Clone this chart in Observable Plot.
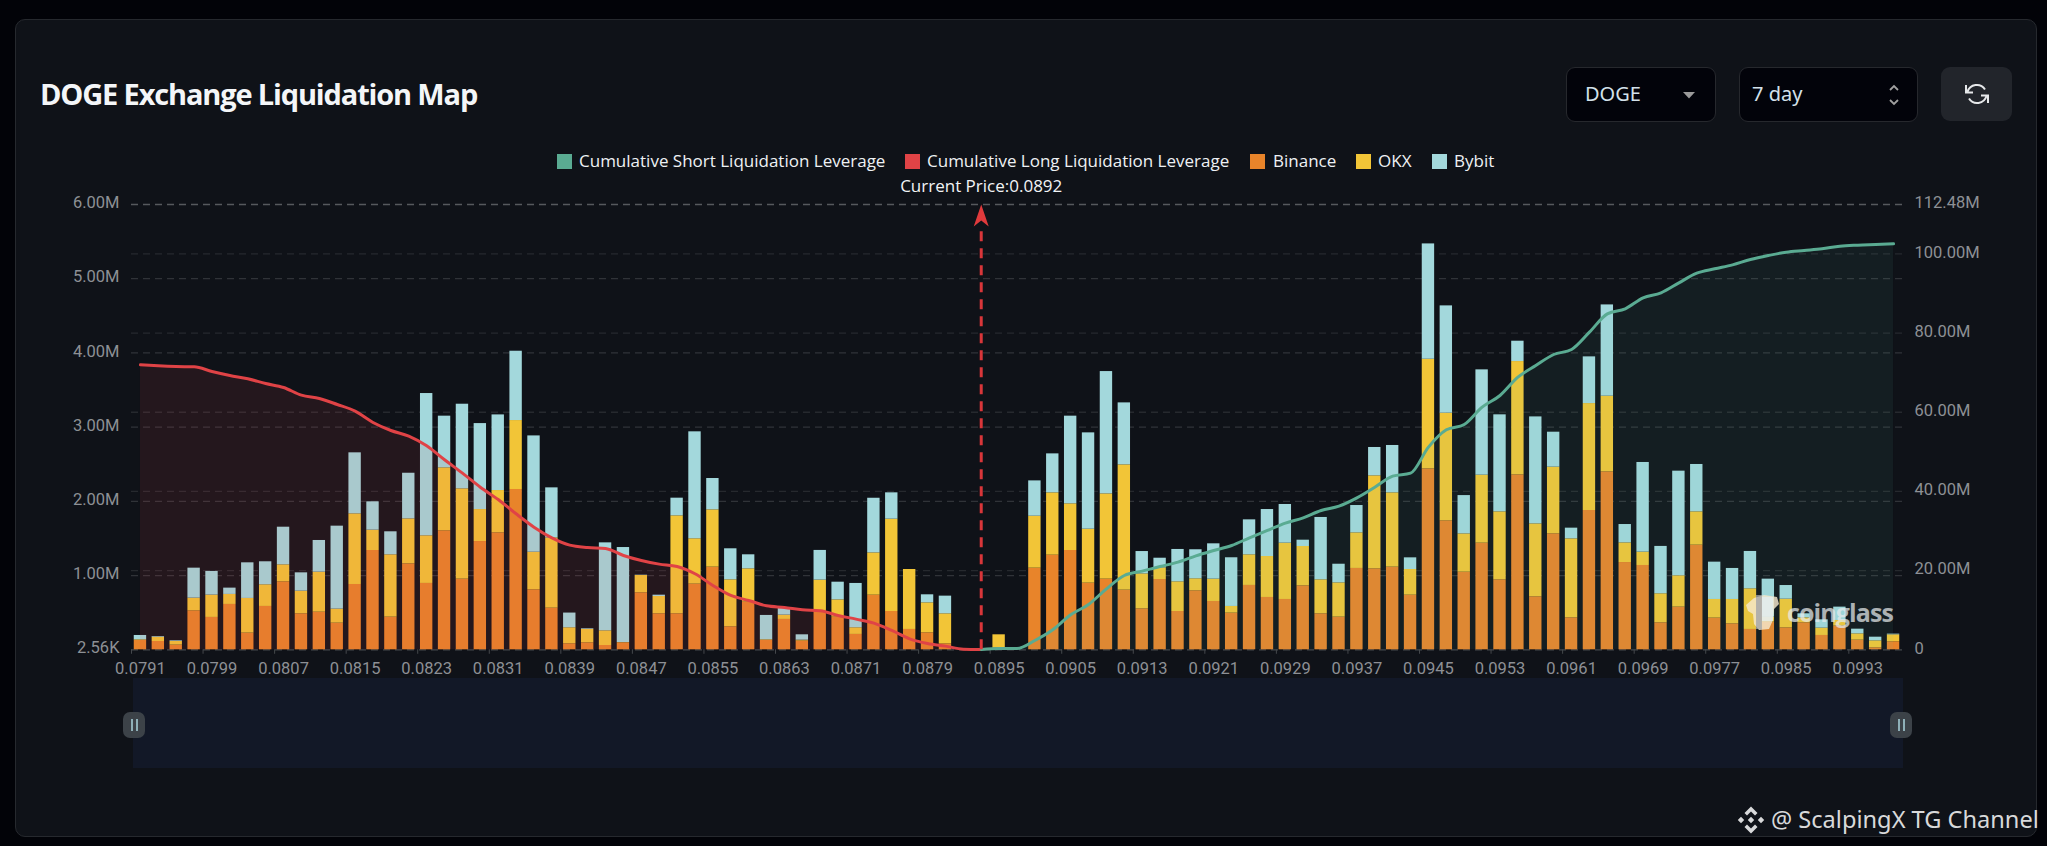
<!DOCTYPE html>
<html>
<head>
<meta charset="utf-8">
<script src="https://cdn.jsdelivr.net/npm/d3@7"></script>
<script src="https://cdn.jsdelivr.net/npm/@observablehq/plot@0.6"></script>
<style>
  html,body{margin:0;padding:0;background:#020308;width:2047px;height:846px;overflow:hidden;}
  .abs{position:absolute;}
  #card{left:15px;top:19px;width:2020px;height:816px;background:#0f1218;border:1px solid #26292e;border-radius:10px;}
  #title{left:40px;top:74px;font:700 29px/40px "Open Sans",sans-serif;color:#f4f6f8;letter-spacing:-1.15px;white-space:nowrap;}
  .box{top:67px;height:53px;background:#02030a;border:1px solid #26282d;border-radius:9px;box-sizing:content-box;}
  .boxtxt{top:80px;font:400 20px/28px "Noto Sans",sans-serif;color:#d3e1ea;white-space:nowrap;}
  #refresh{left:1941px;top:67px;width:71px;height:54px;background:#22252b;border-radius:9px;}
  .sw{top:154px;width:15px;height:15px;}
  .lg{top:149px;font:400 17px/24px "Open Sans",sans-serif;color:#eef1f4;white-space:nowrap;letter-spacing:0;}
  #slider{left:133px;top:678px;width:1770px;height:90px;background:#121827;}
  .handle{top:712px;width:22px;height:26px;background:#3c4248;border-radius:7px;}
  .handle i{position:absolute;top:7px;width:2px;height:12px;background:#8fb0b8;}
  #cg{left:1787px;top:594px;font:700 25px/36px "Open Sans",sans-serif;color:rgba(232,236,238,.72);letter-spacing:-.9px;white-space:nowrap;}
  #wm{left:1771px;top:799px;font:400 23.6px/40px "Noto Sans",sans-serif;color:#d8d9da;white-space:nowrap;}
</style>
</head>
<body>
<div id="card" class="abs"></div>
<div id="title" class="abs">DOGE Exchange Liquidation Map</div>

<div class="abs box" style="left:1566px;width:148px;"></div>
<div class="abs boxtxt" style="left:1585px;">DOGE</div>
<svg class="abs" style="left:1683px;top:92px;" width="12" height="7"><path d="M0 0H12L6 6.5Z" fill="#9a9a9a"/></svg>
<div class="abs box" style="left:1739px;width:177px;"></div>
<div class="abs boxtxt" style="left:1752px;">7 day</div>
<svg class="abs" style="left:1888px;top:84px;" width="12" height="22"><path d="M2 6L6 2L10 6M2 16L6 20L10 16" fill="none" stroke="#a0a0a0" stroke-width="1.8"/></svg>
<div id="refresh" class="abs"></div>
<svg class="abs" style="left:1964px;top:81px;" width="26" height="26" viewBox="0 0 26 26" fill="none" stroke="#e6e8ea" stroke-width="2"><path d="M3.5 11A9.7 9.7 0 0 1 21 8.5"/><path d="M22.500 15A9.700 9.700 0 0 1 5 17.500"/><path d="M2 4V11.500H9M24 22V14.500H17"/></svg>

<div class="abs sw" style="left:557px;background:#5aab92;"></div><div class="abs lg" style="left:579px;">Cumulative Short Liquidation Leverage</div>
<div class="abs sw" style="left:905px;background:#e04346;"></div><div class="abs lg" style="left:927px;">Cumulative Long Liquidation Leverage</div>
<div class="abs sw" style="left:1250px;background:#e8842a;"></div><div class="abs lg" style="left:1273px;">Binance</div>
<div class="abs sw" style="left:1356px;background:#f2c537;"></div><div class="abs lg" style="left:1378px;">OKX</div>
<div class="abs sw" style="left:1432px;background:#a3d8dc;"></div><div class="abs lg" style="left:1454px;">Bybit</div>

<div id="slider" class="abs"></div>
<div class="abs handle" style="left:123px;"><i style="left:8px"></i><i style="left:13px"></i></div>
<div class="abs handle" style="left:1890px;"><i style="left:8px"></i><i style="left:13px"></i></div>

<div id="chart" class="abs" style="left:0;top:175.5px;"></div>

<svg class="abs" style="left:1745px;top:593px;" width="36" height="38" viewBox="0 0 36 38"><path d="M1 12L9 5L19 2L32 4L34 11L29 16L28 27L24 36L14 37L9 31L8 21L3 18Z" fill="rgba(245,232,205,.82)"/><rect x="11" y="2" width="6" height="34" fill="rgba(170,170,170,.75)"/><rect x="17" y="4" width="11" height="24" fill="rgba(225,240,245,.7)"/></svg>
<div id="cg" class="abs">coinglass</div>

<svg class="abs" style="left:1737px;top:806px;" width="28" height="28" viewBox="0 0 28 28" fill="#d8d9da"><path d="M14 0.500L20.500 7L18 9.500L14 5.500L10 9.500L7.500 7ZM14 27.500L7.500 21L10 18.500L14 22.500L18 18.500L20.500 21ZM14 10.800L17.200 14L14 17.200L10.800 14ZM4 10.800L7.200 14L4 17.200L0.800 14ZM24 10.800L27.200 14L24 17.200L20.800 14Z"/></svg>
<div id="wm" class="abs">@ ScalpingX TG Channel</div>

<script>
const prices = ["0.0791","0.0793","0.0795","0.0797","0.0799","0.0801","0.0803","0.0805","0.0807","0.0809","0.0811","0.0813","0.0815","0.0817","0.0819","0.0821","0.0823","0.0825","0.0827","0.0829","0.0831","0.0833","0.0835","0.0837","0.0839","0.0841","0.0843","0.0845","0.0847","0.0849","0.0851","0.0853","0.0855","0.0857","0.0859","0.0861","0.0863","0.0865","0.0867","0.0869","0.0871","0.0873","0.0875","0.0877","0.0879","0.0881","0.0883","0.0892","0.0895","0.0897","0.0900","0.0902","0.0905","0.0907","0.0909","0.0911","0.0913","0.0915","0.0917","0.0919","0.0921","0.0923","0.0925","0.0927","0.0929","0.0931","0.0933","0.0935","0.0937","0.0939","0.0941","0.0943","0.0945","0.0947","0.0949","0.0951","0.0953","0.0955","0.0957","0.0959","0.0961","0.0963","0.0965","0.0967","0.0969","0.0971","0.0973","0.0975","0.0977","0.0979","0.0981","0.0983","0.0985","0.0987","0.0989","0.0991","0.0993","0.0995","0.0997"];

const binance = [.126,.112,.063,.525,.436,.611,.225,.584,.916,.485,.507,.359,.880,1.338,.440,1.158,.894,1.603,.952,1.459,1.576,2.160,.808,.561,.081,.094,.058,.094,.768,.485,.485,.885,1.114,.310,.642,.126,.409,.117,.530,.440,.207,.736,.516,.274,.229,.081,0,0,.027,0,1.100,1.275,1.338,.898,.952,.804,.552,.947,.516,.795,.651,.494,.867,.705,.678,.862,.485,.440,1.096,1.091,1.114,.736,2.438,1.738,1.046,1.437,.943,2.357,.714,1.563,.431,1.877,2.398,1.176,1.136,.364,.575,1.410,.427,.350,.274,.373,.296,.364,.193,.319,.130,.027,.108];
const okx = [.009,.058,.049,.171,.301,.135,.467,.292,.229,.305,.539,.189,.952,.274,.840,.606,.642,.849,1.217,.431,.570,.929,.507,.947,.216,.180,.198,.004,.233,.233,1.320,.611,.772,.633,.449,.009,.058,.013,.409,.233,.090,.570,1.244,.808,.404,.404,0,0,.175,0,.700,.840,.629,.727,1.149,1.688,.471,.157,.400,.162,.301,.090,.413,.552,.759,.530,.458,.462,.480,1.253,1.001,.346,1.477,1.450,.516,.916,.916,1.527,.983,.898,1.064,1.441,1.019,.265,.180,.391,.422,.449,.251,.328,.548,.067,.386,.067,.099,.076,.085,.094,.094];
const bybit = [.058,.009,.009,.404,.319,.085,.480,.310,.507,.247,.427,1.118,.822,.382,.310,.615,1.917,.696,1.140,1.158,1.019,.934,1.567,.674,.198,.009,1.185,1.280,.004,.018,.238,1.441,.422,.418,.189,.328,.094,.072,.400,.238,.597,.736,.355,0,.108,.238,0,0,0,0,.476,.525,1.181,1.298,1.648,.835,.301,.130,.436,.391,.476,.656,.471,.633,.521,.085,.840,.251,.368,.382,.638,.157,1.554,1.446,.516,1.419,1.307,.274,1.441,.471,.144,.629,1.230,.247,1.208,.638,1.410,.638,.503,.418,.503,.512,.184,.054,.112,.180,.063,.049,.009];

// cumulative leverage, millions, right-hand axis
const longPrices = prices.slice(0, 48);
const longCum = [71.98,71.73,71.56,71.48,70.30,69.29,68.45,67.27,66.26,64.32,63.48,61.96,60.28,57.42,55.40,53.97,51.52,47.99,44.62,41.08,37.97,34.35,30.98,28.29,26.44,25.85,25.59,23.83,22.56,21.64,21.05,19.20,16.25,13.72,12.46,11.11,10.69,10.10,9.85,8.67,7.75,6.74,4.88,2.78,1.60,.93,.17,.08];
const shortPrices = prices.slice(47);
const shortCum = [.08,.34,.34,2.36,5.05,8.84,11.45,15.41,18.77,19.87,21.05,22.14,23.74,25.09,26.35,28.29,30.14,31.99,33.34,35.19,36.29,38.39,41.08,43.86,44.62,51.19,55.57,56.91,61.29,64.24,68.87,71.81,74.59,75.86,80.23,84.86,86.13,88.90,90.17,92.69,95.13,96.23,97.24,98.59,99.60,100.44,100.86,101.28,101.95,102.21,102.37,102.54];

const xTicks = ["0.0791","0.0799","0.0807","0.0815","0.0823","0.0831","0.0839","0.0847","0.0855","0.0863","0.0871","0.0879","0.0895","0.0905","0.0913","0.0921","0.0929","0.0937","0.0945","0.0953","0.0961","0.0969","0.0977","0.0985","0.0993"];
const leftTicks = [0.00256,1,2,3,4,5,6];
const leftLabels = ["2.56K","1.00M","2.00M","3.00M","4.00M","5.00M","6.00M"];
const rightTicks = [0,20,40,60,80,100,112.48];
const rightLabels = ["0","20.00M","40.00M","60.00M","80.00M","100.00M","112.48M"];
const currentPrice = "0.0892";
const exchanges = ["Binance","OKX","Bybit"];
const exchangeColors = ["#e8842a","#f2c537","#a3d8dc"];

const leftMax = 6, rightMax = 112.48;
const toLeft = v => v / rightMax * leftMax;

const rows = prices.flatMap((p, i) => [
  {p, ex:"Binance", v:binance[i]},
  {p, ex:"OKX", v:okx[i]},
  {p, ex:"Bybit", v:bybit[i]}
]);
const longRows = longPrices.map((p,i)=>({p, v:toLeft(longCum[i])}));
const shortRows = shortPrices.map((p,i)=>({p, v:toLeft(shortCum[i])}));

const W = 2047, H = 514, mL = 131, mR = 145, mT = 28, mB = 40.7;
const halfBand = (W - mL - mR) / prices.length / 2;

const arrowHead = {draw(ctx){ ctx.moveTo(0,0); ctx.lineTo(-7.5,22); ctx.lineTo(0,16); ctx.lineTo(7.5,22); ctx.closePath(); }};

const leftLabel = new Map(leftTicks.map((t,i)=>[t,leftLabels[i]]));
const rightLabel = new Map(rightTicks.map((t,i)=>[toLeft(t),rightLabels[i]]));
const curve = "monotone-x";

const chart = Plot.plot({
  width: W, height: H,
  marginLeft: mL, marginRight: mR, marginTop: mT, marginBottom: mB,
  style: {background:"transparent", fontFamily:"Roboto, sans-serif", fontSize:"16.5px", overflow:"visible"},
  x: {type:"band", domain: prices, padding:0, label:null},
  y: {domain:[0, leftMax], label:null},
  color: {domain: exchanges, range: exchangeColors},
  marks: [
    Plot.ruleY(leftTicks.slice(1,-1), {stroke:"#303338", strokeWidth:1.3, strokeDasharray:"7 5"}),
    Plot.ruleY(rightTicks.slice(1,-1).map(toLeft), {stroke:"#26292e", strokeWidth:1.3, strokeDasharray:"7 5"}),
    Plot.ruleY([leftMax], {stroke:"#56595d", strokeWidth:1.3, strokeDasharray:"7 5"}),
    Plot.ruleY([0], {stroke:"#45484c", strokeWidth:1.3, strokeDasharray:"7 5"}),
    Plot.ruleX(xTicks, {x:d=>d, y1:0, y2:-0.06, dx:-halfBand, stroke:"#45484c"}),
    Plot.barY(rows, {x:"p", y:"v", fill:"ex", order:exchanges, insetLeft:2.75, insetRight:2.75}),
    Plot.areaY(longRows, {x:"p", y:"v", curve, fill:"#e0404a", fillOpacity:0.1}),
    Plot.areaY(shortRows, {x:"p", y:"v", curve, fill:"#5fc4a8", fillOpacity:0.07}),
    Plot.lineY(longRows, {x:"p", y:"v", curve, stroke:"#e04346", strokeWidth:3}),
    Plot.lineY(shortRows, {x:"p", y:"v", curve, stroke:"#5aab92", strokeWidth:3}),
    Plot.ruleX([currentPrice], {y1:0, y2:5.72, stroke:"#d9363a", strokeWidth:3, strokeDasharray:"10 7"}),
    Plot.dot([currentPrice], {x:d=>d, y:leftMax, symbol:arrowHead, fill:"#e03a3c", r:1}),
    Plot.text([`Current Price:${currentPrice}`], {x:()=>currentPrice, y:leftMax, dy:-18, fill:"#f2f4f6", fontSize:17, fontFamily:"Open Sans, sans-serif", letterSpacing:"-.3px"}),
    Plot.axisX(xTicks, {anchor:"bottom", tickSize:0, tickPadding:12, color:"#8d9095", label:null}),
    Plot.axisY(leftTicks, {anchor:"left", tickSize:0, tickPadding:12, dy:-1.5, tickFormat:d=>leftLabel.get(d), color:"#8d9095", label:null}),
    Plot.axisY(rightTicks.map(toLeft), {anchor:"right", tickSize:0, tickPadding:12, dy:-1.5, tickFormat:d=>rightLabel.get(d), color:"#8d9095", label:null})
  ]
});
document.getElementById("chart").appendChild(chart);
</script>
</body>
</html>
